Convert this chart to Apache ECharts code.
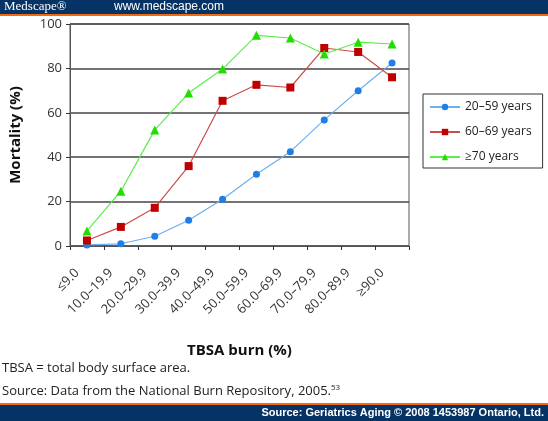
<!DOCTYPE html>
<html>
<head>
<meta charset="utf-8">
<script src="https://cdn.jsdelivr.net/npm/echarts@6/dist/echarts.min.js"></script>
<style>
html, body { margin: 0; padding: 0; background: #fff; }
#chart { width: 548px; height: 421px; }
</style>
</head>
<body>
<div id="chart"></div>
<script>
// 类别（TBSA 烧伤面积区间）
var categories = ['≤9.0', '10.0–19.9', '20.0–29.9', '30.0–39.9', '40.0–49.9',
	'50.0–59.9', '60.0–69.9', '70.0–79.9', '80.0–89.9', '≥90.0'];
// 各年龄组死亡率 (%)
var age20to59 = [0.5, 1, 4.4, 11.6, 21.1, 32.3, 42.5, 56.8, 69.9, 82.4];
var age60to69 = [2.5, 8.6, 17.2, 36, 65.4, 72.6, 71.4, 89.2, 87.4, 76];
var age70plus = [6.8, 24.7, 52.3, 68.9, 79.7, 94.9, 93.7, 86.5, 91.8, 91];
var seriesNames = ['20–59 years', '60–69 years', '≥70 years'];
var yTicks = { min: 0, max: 100, interval: 20 };

var font = '"Open Sans", "Noto Sans", sans-serif';
var myChart = echarts.init(document.getElementById('chart'));

var option = {
	animation: false,
	textStyle: { fontFamily: font },
	grid: {
		left: 63, right: 139, top: 24, bottom: 175,
		show: true, borderColor: '#555', borderWidth: 1
	},
	legend: {
		orient: 'vertical',
		left: 423, top: 94,
		padding: [7, 11, 5, 6],
		itemGap: 13,
		itemWidth: 30, itemHeight: 8,
		borderColor: '#333', borderWidth: 1,
		textStyle: { fontSize: 12, color: '#222', fontFamily: font },
		data: seriesNames
	},
	xAxis: {
		type: 'category',
		data: categories,
		boundaryGap: true,
		name: 'TBSA burn (%)',
		nameLocation: 'middle',
		nameGap: 97,
		nameTextStyle: { fontSize: 15, fontWeight: 'bold', color: '#111', fontFamily: font },
		axisLine: { lineStyle: { color: '#555', width: 1 } },
		axisTick: { show: true, length: 4, lineStyle: { color: '#333' } },
		axisLabel: { rotate: 45, fontSize: 13, color: '#333', margin: 15, padding: [0, 14, 0, 0], interval: 0 },
		splitLine: { show: false }
	},
	yAxis: {
		type: 'value',
		min: yTicks.min, max: yTicks.max, interval: yTicks.interval,
		name: 'Mortality (%)',
		nameLocation: 'middle',
		nameGap: 47,
		nameTextStyle: { fontSize: 15, fontWeight: 'bold', color: '#111', fontFamily: font },
		axisLine: { show: true, lineStyle: { color: '#555', width: 1 } },
		axisTick: { show: true, length: 4, lineStyle: { color: '#333' } },
		axisLabel: { fontSize: 13, color: '#333', margin: 8 },
		splitLine: { show: true, lineStyle: { color: '#444', width: 1.5 } }
	},
	series: [{
		name: seriesNames[0],
		type: 'line',
		data: age20to59,
		symbol: 'circle',
		symbolSize: 7,
		itemStyle: { color: '#1f7fe8' },
		lineStyle: { color: '#6ab0f2', width: 1.2 }
	}, {
		name: seriesNames[1],
		type: 'line',
		data: age60to69,
		symbol: 'rect',
		symbolSize: 8,
		itemStyle: { color: '#c00000' },
		lineStyle: { color: '#cc4b4b', width: 1.2 }
	}, {
		name: seriesNames[2],
		type: 'line',
		data: age70plus,
		symbol: 'triangle',
		symbolSize: 9,
		itemStyle: { color: '#22dd00' },
		lineStyle: { color: '#5cec4c', width: 1.2 }
	}],
	graphic: [
		// 顶部标题栏
		{ type: 'rect', left: 0, top: 0, shape: { width: 548, height: 14 }, style: { fill: '#063366' } },
		{ type: 'rect', left: 0, top: 14, shape: { width: 548, height: 2 }, style: { fill: '#f26a10' } },
		{ type: 'text', left: 4, top: 0, style: { text: 'Medscape®', fill: '#fff', font: '13px "Liberation Serif", serif' } },
		{ type: 'text', left: 114, top: 1, style: { text: 'www.medscape.com', fill: '#fff', font: '12px "Liberation Sans", Arial, sans-serif' } },
		// 注释
		{ type: 'text', left: 2, top: 362, style: { text: 'TBSA = total body surface area.', fill: '#222', font: '13px ' + font } },
		{ type: 'text', left: 2, top: 384, style: { rich: {
			a: { fontSize: 13, fill: '#222', fontFamily: font },
			s: { fontSize: 8, fill: '#222', fontFamily: font, verticalAlign: 'top', padding: [0, 0, 6, 0] }
		}, text: '{a|Source: Data from the National Burn Repository, 2005.}{s|53}' } },
		// 底部来源栏
		{ type: 'rect', left: 0, top: 403, shape: { width: 548, height: 2 }, style: { fill: '#f26a10' } },
		{ type: 'rect', left: 0, top: 405, shape: { width: 548, height: 16 }, style: { fill: '#063366' } },
		{ type: 'text', right: 4, top: 407, style: { text: 'Source: Geriatrics Aging © 2008 1453987 Ontario, Ltd.', fill: '#fff', font: 'bold 11px "Liberation Sans", Arial, sans-serif' } }
	]
};
myChart.setOption(option);
</script>
</body>
</html>
